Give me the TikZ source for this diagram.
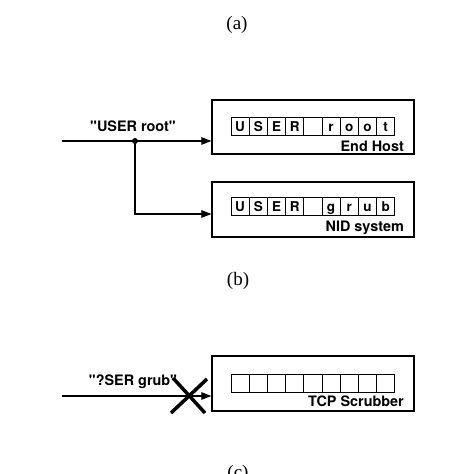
\documentclass[tikz,border=0pt]{standalone}
\usepackage{fontspec}
\setmainfont{TeX Gyre Heros}
\newfontfamily\capfont{Liberation Serif}
\usetikzlibrary{arrows.meta,calc}
\tikzset{
    box/.style={draw, line width=1.3pt, minimum width=202pt, inner sep=0pt},
    cell/.style={draw, line width=1pt, minimum width=18.2pt, minimum height=17.5pt,
        inner sep=0pt, text height=9.6pt, text depth=0pt,
        font=\fontsize{13.5}{14}\selectfont\bfseries}
}
\tikzset{
    lbl/.style={inner sep=0pt, font=\fontsize{14.4}{15}\selectfont\bfseries},
    captext/.style={inner sep=0pt, font=\capfont\fontsize{19}{20}\selectfont}
}
\tikzset{
    wire/.style={line width=1.2pt, -{Triangle[length=10pt,width=7.5pt]}}
}

\begin{document}
\begin{tikzpicture}[x=1pt, y=-1pt]
  \useasboundingbox (0,0) rectangle (474,474);

  \node (capa) [captext] at (237,25) {(a)};
  \node (capb) [captext] at (238,281) {(b)};
  \node (capc) [captext] at (238,474) {(c)};

  % (b)
  \node (host) [box, minimum height=54pt] at (313,127) {};
  \node (nid) [box, minimum height=55pt] at (313,209.5) {};
  \node (hostlbl) [lbl, anchor=base east] at (404,151) {End Host};
  \node (nidlbl) [lbl, anchor=base east] at (404,231) {NID system};
  \foreach \ch [count=\i from 0] in {U,S,E,R,{},r,o,o,t}
    \node (h\i) [cell] at (240.1+18.2*\i,126.5) {\ch};
  \foreach \ch [count=\i from 0] in {U,S,E,R,{},g,r,u,b}
    \node (n\i) [cell] at (240.1+18.2*\i,206.5) {\ch};

  \node (msg) [lbl] at (133,126) {\textquotedbl USER root\textquotedbl};
  \coordinate (in) at (62,141);
  \coordinate (turn) at (135,214);
  \node (tap) [circle, fill, inner sep=0pt, minimum size=6pt] at (135,141) {};
  \draw [wire] (in) -- (tap.center) -- (tap -| host.west);
  \draw [wire] (tap.center) -- (turn) -- (turn -| nid.west);

  % (c)
  \node (scrub) [box, minimum height=55pt] at (313,383.5) {};
  \node (scrublbl) [lbl, anchor=base east] at (404,406) {TCP Scrubber};
  \foreach \i in {0,...,8}
    \node (s\i) [cell] at (240.1+18.2*\i,383.5) {};

  \node (bad) [lbl] at (133,382) {\textquotedbl ?SER grub\textquotedbl};
  \coordinate (in3) at (62,396);
  \draw [wire] (in3) -- (in3 -| scrub.west);
  \coordinate (cut) at (189,396);
  \draw [line width=3.5pt] ($(cut)+(-18,17)$) -- ($(cut)+(18,-17)$)
    ($(cut)+(-16,-18)$) -- ($(cut)+(16,17)$);
\end{tikzpicture}
\end{document}
